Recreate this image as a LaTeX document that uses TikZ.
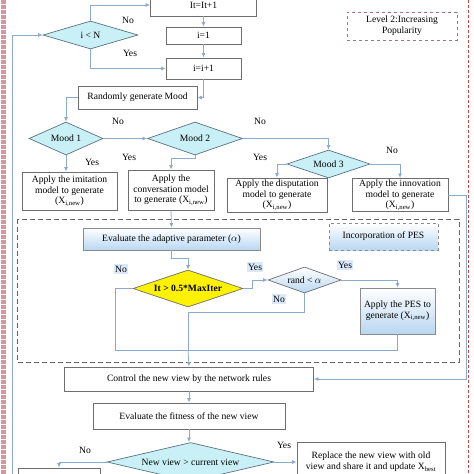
\documentclass[tikz,border=0pt]{standalone}
\usepackage{fontspec}
\setmainfont{Liberation Serif}
\usetikzlibrary{shapes.geometric, arrows.meta, positioning}

\definecolor{flowline}{RGB}{140,170,205}
\definecolor{boxgray}{RGB}{110,110,110}
\definecolor{moodfill}{RGB}{200,240,246}
\definecolor{moodedge}{RGB}{90,115,125}
\definecolor{pesblue}{RGB}{185,215,242}
\definecolor{tagblue}{RGB}{218,233,250}
\definecolor{levelred}{RGB}{165,115,125}
\definecolor{framered}{RGB}{205,70,70}
\definecolor{framepink}{RGB}{212,150,160}

\begin{document}
\begin{tikzpicture}[
    x=1pt, y=-1pt,
    font=\fontsize{9.6}{10.8}\selectfont,
    flowbox/.style={rectangle, draw=boxgray, fill=white, line width=0.8pt, inner sep=0pt, align=center},
    pesbox/.style={flowbox, draw=boxgray!80, top color=white, bottom color=pesblue},
    moodbox/.style={diamond, aspect=3, draw=moodedge, fill=moodfill, line width=0.7pt, inner sep=0pt},
    tag/.style={inner sep=1.5pt},
    bluetag/.style={tag, fill=tagblue},
    line/.style={flowline, line width=0.8pt},
    arrow/.style={line, -{Latex[length=1.6mm, width=1.4mm]}}
]
\useasboundingbox (0,0) rectangle (474,474);
\clip (0,0) rectangle (474,474);

% frame of level 2
\draw[framepink, line width=5pt, dash pattern=on 3.5pt off 1.5pt] (3,0) -- (3,474);
\draw[framered, line width=0.6pt, dash pattern=on 3pt off 2pt] (468,0) -- (468,474);

\node[flowbox, dashed, draw=levelred, minimum width=110, minimum height=28] (level) at (402,26) {Level 2:Increasing\\Popularity};

% iteration loop
\node[flowbox, minimum width=106, minimum height=22] (itinc) at (203.5,5) {It=It+1};
\node[flowbox, minimum width=75, minimum height=17] (ione) at (203.5,35.5) {i=1};
\node[flowbox, minimum width=75, minimum height=21] (iinc) at (203.5,68.5) {i=i+1};
\node[moodbox, minimum width=95, minimum height=28] (ilessn) at (90.5,35) {i {\textless} N};
\node[flowbox, minimum width=119, minimum height=23] (randmood) at (137.5,97.5) {Randomly generate Mood};

% moods
\node[moodbox, minimum width=74, minimum height=33] (moodone) at (66,138.5) {Mood 1};
\node[moodbox, minimum width=95, minimum height=33] (moodtwo) at (195,138.5) {Mood 2};
\node[moodbox, minimum width=83, minimum height=28] (moodthree) at (328.5,164) {Mood 3};

\node[flowbox, minimum width=95, minimum height=38] (imitation) at (69.5,191) {Apply the imitation\\model to generate\\(X\textsubscript{i,new})};
\node[flowbox, minimum width=86, minimum height=40] (conversation) at (171,190) {Apply the\\conversation model\\to generate (X\textsubscript{i,new})};
\node[flowbox, minimum width=100, minimum height=34] (disputation) at (277,195) {Apply the disputation\\model to generate\\(X\textsubscript{i,new})};
\node[flowbox, minimum width=96, minimum height=33] (innovation) at (400,195) {Apply the innovation\\model to generate\\(X\textsubscript{i,new})};

% PES part
\draw[boxgray!90!black, line width=0.9pt, dash pattern=on 5pt off 3pt] (17,219) rectangle (459,362);
\node[pesbox, dashed, minimum width=109, minimum height=27] (pestitle) at (383.5,236.5) {Incorporation of PES};
\node[pesbox, minimum width=177, minimum height=22] (evalalpha) at (171.5,239) {Evaluate the adaptive parameter ($\alpha$)};
\node[moodbox, fill=yellow, draw=boxgray, minimum width=110, minimum height=37, font=\fontsize{9.6}{10.8}\selectfont\bfseries] (itcheck) at (188,288.5) {It {\textgreater} 0.5*MaxIter};
\node[moodbox, draw=boxgray, fill=none, top color=white, bottom color=pesblue, minimum width=73, minimum height=26] (randcheck) at (304.5,280) {rand {\textless} $\alpha$};
\node[pesbox, minimum width=75, minimum height=46] (applypes) at (397.5,311) {Apply the PES to\\generate (X\textsubscript{i,new})};

% fitness
\node[flowbox, minimum width=249, minimum height=24] (control) at (189,379) {Control the new view by the network rules};
\node[flowbox, minimum width=192, minimum height=26] (fitness) at (189,416) {Evaluate the fitness of the new view};
\node[moodbox, minimum width=167, minimum height=34] (newview) at (190.5,462) {New view {\textgreater} current view};
\node[flowbox, minimum width=82, minimum height=16] (nobox) at (59,476) {};
\node[flowbox, minimum width=148, minimum height=40] (replace) at (371,462) {Replace the new view with old\\view and share it and update X\textsubscript{best}};

\coordinate (rightrail) at (466,0);
\coordinate (leftrail) at (12,480);
\coordinate (join) at (188,312);
\coordinate (merge) at (188,350);

\draw[arrow] (ilessn.north) |- (itinc.west);
\draw[arrow] (ilessn.south) |- (iinc.west);
\draw[arrow] (itinc) -- (ione);
\draw[arrow] (ione) -- (iinc);
\draw[arrow] (iinc.south) |- (randmood.east);
\draw[arrow] (randmood.west) -| (moodone.north);

\draw[arrow] (moodone.east) -- (moodtwo.west);
\draw[arrow] (moodone.south) -- (moodone.south |- imitation.north);
\draw[arrow] (moodtwo.south) -- ++(0,3) -| (conversation.north);
\draw[arrow] (moodtwo.east) -| (moodthree.north);
\draw[arrow] (moodthree.west) -| (disputation.north);
\draw[arrow] (moodthree.east) -| (innovation.north);
\draw[arrow] (innovation.east) -- (innovation.east -| rightrail) |- (control.east);

\draw[arrow] (conversation.south) -- (evalalpha.north);
\draw[arrow] (evalalpha.south) -- ++(0,8) -| (itcheck.north);
\draw[arrow] (itcheck.east) -- ++(9,0) |- (randcheck.west);
\draw[arrow] (randcheck.east) -| (applypes.north);
\draw[line] (randcheck.south) |- (join) -- (merge);
\draw[line] (itcheck.west) -- ++(-17,0) |- (merge);
\draw[line] (applypes.south) |- (merge);
\draw[arrow] (merge) -- (control.north);

\draw[arrow] (control) -- (fitness);
\draw[arrow] (fitness.south) -- (fitness.south |- newview.north);
\draw[arrow] (newview.west) -| (nobox.north);
\draw[arrow] (newview.east) -- (replace.west);

% Loop back
\draw[arrow] (leftrail) |- (ilessn.west);

\node[tag] (noa) at (128,20) {No};
\node[tag] (yesa) at (130,53) {Yes};
\node[tag] (nob) at (118,121) {No};
\node[tag] (yesb) at (92,162) {Yes};
\node[tag] (yesc) at (129,157) {Yes};
\node[tag] (noc) at (260,121) {No};
\node[tag] (yesd) at (260,157) {Yes};
\node[tag] (nod) at (392,150) {No};
\node[bluetag] (noe) at (121,269) {No};
\node[bluetag] (yese) at (255,267) {Yes};
\node[bluetag] (nof) at (279,299) {No};
\node[bluetag] (yesf) at (345,265) {Yes};
\node[tag] (nog) at (85,450) {No};
\node[tag] (yesg) at (284,445) {Yes};
\end{tikzpicture}
\end{document}
